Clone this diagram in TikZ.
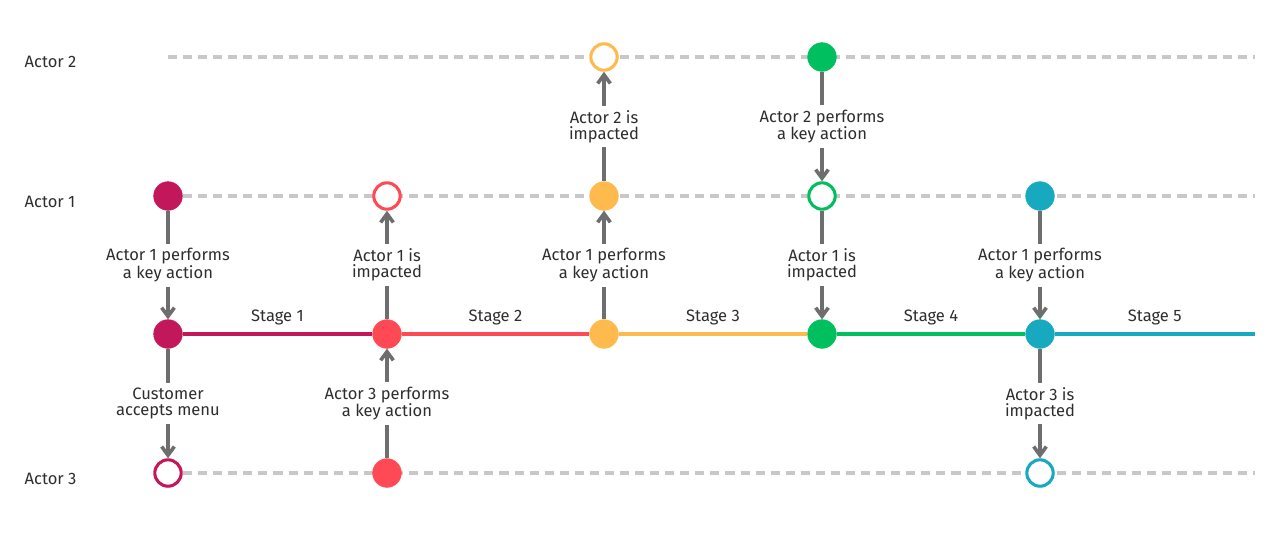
\documentclass[tikz,border=0pt]{standalone}
\usepackage{fontspec}
\setmainfont{Fira Sans}
\usetikzlibrary{arrows.meta,positioning}
\definecolor{stA}{HTML}{C2185B}
\definecolor{stB}{HTML}{FF4A55}
\definecolor{stC}{HTML}{FFBA4D}
\definecolor{stD}{HTML}{00BF5F}
\definecolor{stE}{HTML}{17A9BF}
\definecolor{guide}{HTML}{C8C8C8}
\definecolor{link}{HTML}{6E6E6E}
\definecolor{ink}{HTML}{2E2E2E}
\begin{document}
\begin{tikzpicture}[x=0.75pt,y=-0.75pt,
font=\fontsize{12.4}{12}\selectfont, text=ink,
full/.style={circle,inner sep=0pt,minimum size=21.5pt,fill=#1,draw=#1},
hollow/.style={circle,inner sep=0pt,minimum size=19.8pt,fill=white,draw=#1,line width=2.3pt},
guideline/.style={draw=guide,line width=2.5pt,dash pattern=on 6.8pt off 4.5pt},
stage/.style={draw=#1,line width=3.2pt},
act/.style={draw=link,line width=2.7pt,-{Straight Barb[length=6.5pt,width=9.5pt]}},
tag/.style={fill=white,align=center,inner xsep=1pt,inner ysep=3.5pt}]
\useasboundingbox (0,0) rectangle (1280,533);
% row labels
\node[anchor=west] (L2) at (20,62) {Actor 2};
\node[anchor=west] (L1) at (20,202) {Actor 1};
\node[anchor=west] (L3) at (20,479) {Actor 3};
% guide lines
\coordinate (T0) at (168,57);
\coordinate (T9) at (1255,57);
\coordinate (U9) at (1255,196);
\coordinate (B9) at (1255,473);
\coordinate (M9) at (1255,334);
\draw[guideline] (T0)--(T9);
\draw[guideline] (168,196)--(U9);
\draw[guideline] (168,473)--(B9);
% main line
\node[full=stA] (M1) at (168,334) {};
\node[full=stB] (M2) at (387,334) {};
\node[full=stC] (M3) at (604,334) {};
\node[full=stD] (M4) at (822,334) {};
\node[full=stE] (M5) at (1040,334) {};
\draw[stage=stA] (M1)-- node[above=1.5pt] {Stage 1} (M2);
\draw[stage=stB] (M2)-- node[above=1.5pt] {Stage 2} (M3);
\draw[stage=stC] (M3)-- node[above=1.5pt] {Stage 3} (M4);
\draw[stage=stD] (M4)-- node[above=1.5pt] {Stage 4} (M5);
\draw[stage=stE] (M5)-- node[above=1.5pt] {Stage 5} (M9);
% actor events
\node[hollow=stC] (T3) at (604,57) {};
\node[full=stD] (T4) at (822,57) {};
\node[full=stA] (U1) at (168,196) {};
\node[hollow=stB] (U2) at (387,196) {};
\node[full=stC] (U3) at (604,196) {};
\node[hollow=stD] (U4) at (822,196) {};
\node[full=stE] (U5) at (1040,196) {};
\node[hollow=stA] (B1) at (168,473) {};
\node[full=stB] (B2) at (387,473) {};
\node[hollow=stE] (B5) at (1040,473) {};
% impacts
\draw[act] (U1)-- node[tag] {Actor 1 performs\\a key action} (M1);
\draw[act] (M1)-- node[tag] {Customer\\accepts menu} (B1);
\draw[act] (M2)-- node[tag] {Actor 1 is\\impacted} (U2);
\draw[act] (B2)-- node[tag] {Actor 3 performs\\a key action} (M2);
\draw[act] (U3)-- node[tag] {Actor 2 is\\impacted} (T3);
\draw[act] (M3)-- node[tag] {Actor 1 performs\\a key action} (U3);
\draw[act] (T4)-- node[tag] {Actor 2 performs\\a key action} (U4);
\draw[act] (U4)-- node[tag] {Actor 1 is\\impacted} (M4);
\draw[act] (U5)-- node[tag] {Actor 1 performs\\a key action} (M5);
\draw[act] (M5)-- node[tag] {Actor 3 is\\impacted} (B5);
\end{tikzpicture}
\end{document}
